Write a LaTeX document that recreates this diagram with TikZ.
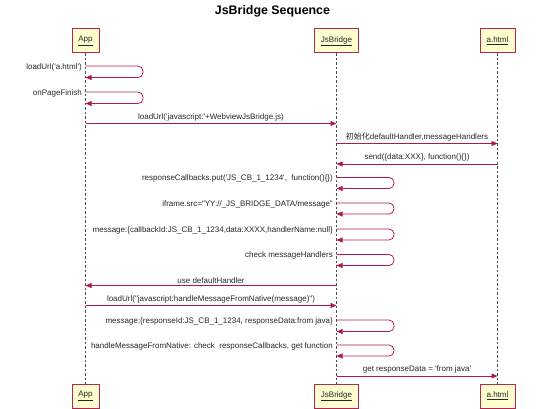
\documentclass[tikz,border=0pt]{standalone}
\usepackage{fontspec}
\setmainfont{Liberation Sans}[Ligatures=TeXOff]
\newfontfamily\cjk{Noto Sans CJK SC}
\usetikzlibrary{arrows.meta}
\definecolor{bord}{HTML}{A80036}
\definecolor{boxfill}{HTML}{FEFECE}
\tikzset{
  actor/.style={draw=bord!85, fill=boxfill, line width=1pt, minimum height=24pt, inner sep=0pt, font=\fontsize{8}{9}\selectfont, text=black!85},
  life/.style={draw=black!70, dash pattern=on 2.5pt off 2pt, line width=0.6pt},
  msg/.style={draw=bord!90, line width=0.75pt, -{Triangle[length=6pt,width=5pt]}},
  lbl/.style={font=\fontsize{8}{9}\selectfont, inner sep=0pt, text=black!85},
}
\newcommand\selfloopmsg[5]{%
  \coordinate (#2a) at (#1.south |- 0,#3);
  \coordinate (#2b) at (#1.south |- 0,#4);
  \draw[msg, rounded corners=5pt] (#2a) -- ++(57.5,0) |- (#2b);
  \node[lbl, anchor=east] (#2l) at ([xshift=-3.5pt, yshift=-1pt]#2a) {#5};%
}
\newcommand\plainmsg[5]{%
  \coordinate (#3a) at (#1.south |- 0,#4);
  \coordinate (#3b) at (#2.south |- 0,#4);
  \draw[msg] (#3a) -- node[lbl, above=2pt] (#3l) {#5} (#3b);%
}
\begin{document}
\begin{tikzpicture}[x=1pt,y=-1pt]
\useasboundingbox (0,0) rectangle (554,409);
\node[font=\bfseries\fontsize{12.4}{14}\selectfont] (title) at (272.5,11.5) {JsBridge Sequence};
% participants
\node[actor, minimum width=27pt] (appT) at (85.5,41) {\underline{App}};
\node[actor, minimum width=44pt] (jsT) at (336.5,41) {\underline{JsBridge}};
\node[actor, minimum width=35pt] (aT) at (497.5,41) {\underline{a.html}};
\node[actor, minimum width=27pt] (appB) at (85.5,396) {\underline{App}};
\node[actor, minimum width=44pt] (jsB) at (336.5,396) {\underline{JsBridge}};
\node[actor, minimum width=35pt] (aB) at (497.5,396) {\underline{a.html}};
% lifelines
\draw[life] (appT.south) -- (appB.north);
\draw[life] (jsT.south) -- (jsB.north);
\draw[life] (aT.south) -- (aB.north);
% messages
\selfloopmsg{appT}{m1}{66}{77.5}{loadUrl('a.html')}
\selfloopmsg{appT}{m2}{92}{103.5}{onPageFinish}
\plainmsg{appT}{jsT}{m3}{123.5}{loadUrl('javascript:'+WebviewJsBridge.js)}
\plainmsg{jsT}{aT}{m4}{143.5}{{\cjk 初始化}defaultHandler,messageHandlers}
\plainmsg{aT}{jsT}{m5}{164}{send(\{data:XXX\}, function()\{\})}
\selfloopmsg{jsT}{m6}{177.5}{188.5}{responseCallbacks.put('JS\_CB\_1\_1234',~ function()\{\})}
\selfloopmsg{jsT}{m7}{203}{214}{iframe.src="YY://\_JS\_BRIDGE\_DATA/message"}
\selfloopmsg{jsT}{m8}{229}{240}{message:\{callbackId:JS\_CB\_1\_1234,data:XXXX,handlerName:null\}}
\selfloopmsg{jsT}{m9}{254.5}{265.5}{check messageHandlers}
\plainmsg{jsT}{appT}{m10}{285.5}{use defaultHandler}
\plainmsg{appT}{jsT}{m11}{305.5}{loadUrl("javascript:handleMessageFromNative(message)")}
\selfloopmsg{jsT}{m12}{320}{331.5}{message:\{responseId:JS\_CB\_1\_1234, responseData:from java\}}
\selfloopmsg{jsT}{m13}{345}{356}{handleMessageFromNative: check~ responseCallbacks, get function}
\plainmsg{jsT}{aT}{m14}{376}{get responseData = 'from java'}
\end{tikzpicture}
\end{document}
